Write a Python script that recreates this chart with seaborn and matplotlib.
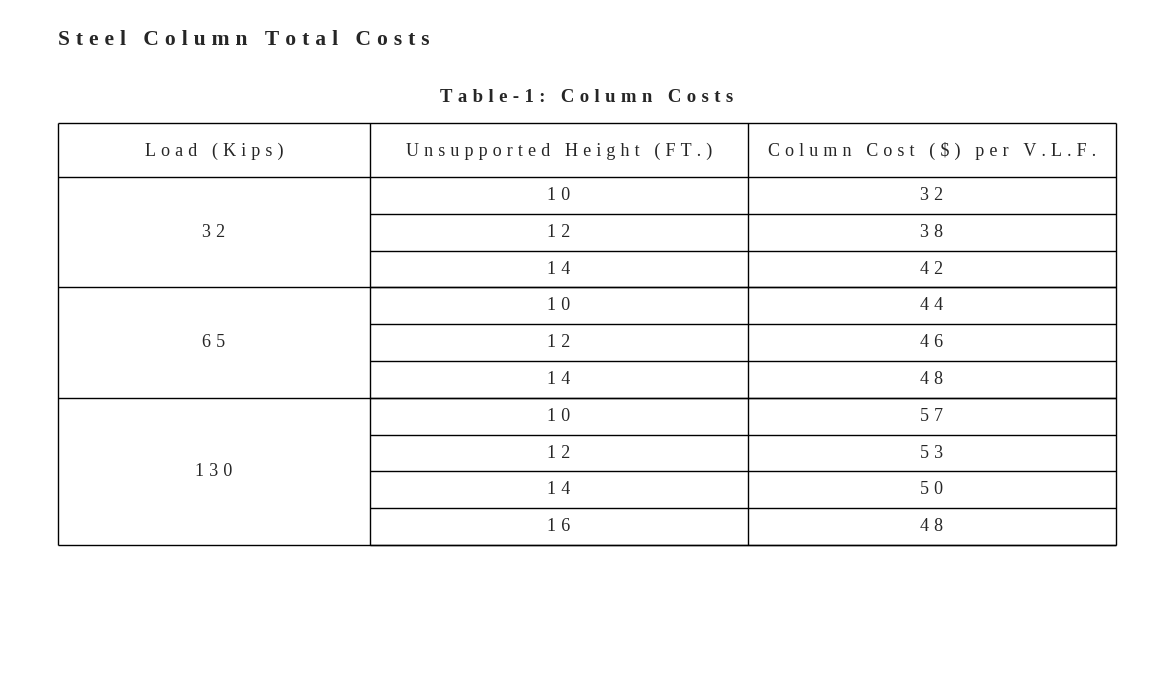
import matplotlib
matplotlib.use("Agg")
import matplotlib.pyplot as plt
import seaborn as sns

sns.set_style("white")
plt.rcParams['font.family'] = ['Liberation Serif', 'DejaVu Serif']

title = "Steel Column Total Costs"
caption = "Table-1: Column Costs"
headers = ["Load (Kips)", "Unsupported Height (FT.)", "Column Cost ($) per V.L.F."]
loads = [32, 65, 130]
heights = [[10, 12, 14], [10, 12, 14], [10, 12, 14, 16]]
costs = [[32, 38, 42], [44, 46, 48], [57, 53, 50, 48]]


def spaced(s):
    # the reference uses wide letter spacing
    return "\u2009\u200a".join(s)


# table geometry in pixel units
col_x = [58, 370, 748, 1116]
head_top, head_bot = 123, 177
row_h = 36.8

fig = plt.figure(figsize=(11.58, 6.78), dpi=100)
ax = fig.add_axes([0, 0, 1, 1])
ax.set_xlim(0, 1158)
ax.set_ylim(678, 0)
ax.axis("off")

ax.text(58, 40, spaced(title), fontsize=15.5, fontweight="bold", ha="left", va="center")
ax.text(587, 98, spaced(caption), fontsize=13.5, fontweight="bold", ha="center", va="center")

lw = 1.0
ax.hlines([head_top, head_bot], col_x[0], col_x[-1], color="black", lw=lw)
for i, h in enumerate(headers):
    ax.text((col_x[i] + col_x[i + 1]) / 2, (head_top + head_bot) / 2 + 1, spaced(h),
            fontsize=13, ha="center", va="center")

y = head_bot
for load, hs, cs in zip(loads, heights, costs):
    y0 = y
    for h, c in zip(hs, cs):
        ym = y + row_h / 2
        ax.text((col_x[1] + col_x[2]) / 2, ym, spaced(str(h)), fontsize=13, ha="center", va="center")
        ax.text((col_x[2] + col_x[3]) / 2, ym, spaced(str(c)), fontsize=13, ha="center", va="center")
        y += row_h
        ax.hlines(y, col_x[1], col_x[3], color="black", lw=lw)
    ax.hlines(y, col_x[0], col_x[3], color="black", lw=lw)
    ax.text((col_x[0] + col_x[1]) / 2, (y0 + y) / 2, spaced(str(load)), fontsize=13, ha="center", va="center")

ax.vlines(col_x, head_top, y, color="black", lw=lw)

fig.savefig("out.png", dpi=100)
